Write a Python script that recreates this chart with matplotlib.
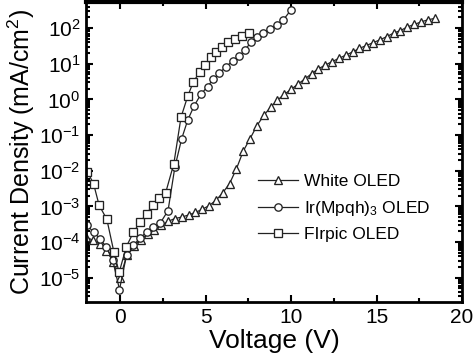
import matplotlib
matplotlib.use("Agg")
import matplotlib.pyplot as plt
from matplotlib.ticker import LogLocator, MultipleLocator, LogFormatterMathtext, NullFormatter
import numpy as np

plt.rcParams['font.family'] = ['Liberation Sans', 'DejaVu Sans']
plt.rcParams['mathtext.fontset'] = 'custom'
plt.rcParams['mathtext.rm'] = 'Liberation Sans'
plt.rcParams['mathtext.it'] = 'Liberation Sans'
plt.rcParams['mathtext.default'] = 'regular'

# White OLED (triangles): voltage (V), log10 current density (mA/cm^2)
white_v = [-2.0, -1.6, -1.2, -0.8, -0.4, 0.0, 0.4, 0.8, 1.2, 1.6, 2.0, 2.4, 2.8, 3.2,
           3.6, 4.0, 4.4, 4.8, 5.2, 5.6, 6.0, 6.4, 6.8, 7.2, 7.6, 8.0, 8.4, 8.8, 9.2,
           9.6, 10.0, 10.4, 10.8, 11.2, 11.6, 12.0, 12.4, 12.8, 13.2, 13.6, 14.0, 14.4,
           14.8, 15.2, 15.6, 16.0, 16.4, 16.8, 17.2, 17.6, 18.0, 18.4]
white_logj = [-3.85, -3.95, -4.05, -4.25, -4.55, -5.0, -4.35, -4.1, -3.93, -3.78, -3.65,
              -3.53, -3.42, -3.34, -3.3, -3.24, -3.17, -3.08, -2.98, -2.83, -2.62, -2.36,
              -1.95, -1.45, -1.1, -0.74, -0.45, -0.22, -0.02, 0.14, 0.28, 0.43, 0.57,
              0.72, 0.86, 0.96, 1.06, 1.15, 1.24, 1.33, 1.43, 1.51, 1.59, 1.67, 1.76,
              1.86, 1.93, 2.03, 2.1, 2.17, 2.23, 2.27]

# Ir(Mpqh)3 OLED (circles)
ir_v = [-1.95, -1.55, -1.2, -0.82, -0.44, -0.04, 0.38, 0.78, 1.17, 1.56, 1.95, 2.34,
        2.8, 3.2, 3.6, 3.96, 4.33, 4.72, 5.11, 5.46, 5.81, 6.2, 6.59, 6.98, 7.31, 7.65,
        8.0, 8.38, 8.75, 9.16, 9.55, 9.98]
ir_logj = [-3.53, -3.72, -3.9, -4.13, -4.5, -5.33, -4.35, -4.09, -3.88, -3.72, -3.58,
           -3.47, -3.12, -1.9, -1.1, -0.57, -0.18, 0.14, 0.36, 0.57, 0.74, 0.92, 1.08,
           1.22, 1.39, 1.6, 1.75, 1.86, 1.97, 2.09, 2.23, 2.5]

# FIrpic OLED (squares)
fi_v = [-1.92, -1.56, -1.23, -0.78, -0.37, -0.06, 0.36, 0.78, 1.17, 1.56, 1.92, 2.3,
        2.66, 3.14, 3.56, 3.96, 4.29, 4.68, 4.97, 5.3, 5.61, 5.95, 6.33, 6.73, 7.12, 7.56]
fi_logj = [-2.03, -2.36, -2.97, -3.36, -4.27, -4.85, -4.13, -3.72, -3.44, -3.2, -2.95,
           -2.76, -2.62, -1.8, -0.5, 0.1, 0.5, 0.78, 0.97, 1.18, 1.34, 1.48, 1.6, 1.69,
           1.79, 1.86]

labels = ["White OLED", "Ir(Mpqh)$_3$ OLED", "FIrpic OLED"]

fig = plt.figure(figsize=(4.74, 3.63), dpi=100)
ax = fig.add_axes([0.1814, 0.168, 0.7933, 0.8265])

mk = dict(markerfacecolor='white', markeredgecolor='#222222', markeredgewidth=0.95,
          color='#222222', linewidth=0.9, markersize=5.3)
ax.plot(white_v, 10 ** np.array(white_logj), marker='^', label=labels[0], **mk)
ax.plot(ir_v, 10 ** np.array(ir_logj), marker='o', label=labels[1], **mk)
ax.plot(fi_v, 10 ** np.array(fi_logj), marker='s', label=labels[2], **mk)

ax.set_yscale('log')
ax.set_xlim(-2, 20)
ax.set_ylim(10 ** -5.68, 10 ** 2.73)

ax.xaxis.set_major_locator(MultipleLocator(5))
ax.xaxis.set_minor_locator(MultipleLocator(2.5))
ax.yaxis.set_major_locator(LogLocator(base=10, numticks=20))
ax.yaxis.set_minor_locator(LogLocator(base=10, subs=np.arange(2, 10), numticks=20))
ax.yaxis.set_major_formatter(LogFormatterMathtext())
ax.yaxis.set_minor_formatter(NullFormatter())

ax.tick_params(which='both', direction='in', top=True, right=True, width=1.5)
ax.tick_params(which='major', length=5, labelsize=15, pad=4)
ax.tick_params(which='minor', length=3)
for s in ax.spines.values():
    s.set_linewidth(2)
ax.spines['top'].set_linewidth(3)

ax.set_xlabel("Voltage (V)", fontsize=19, labelpad=2)
ax.set_ylabel("Current Density (mA/cm$^2$)", fontsize=18, labelpad=1)

leg = ax.legend(loc='upper left', bbox_to_anchor=(0.44, 0.45), frameon=False,
                fontsize=12.5, handlelength=2.3, handletextpad=0.3,
                labelspacing=0.55, borderaxespad=0)

fig.savefig("out.png", dpi=100)
